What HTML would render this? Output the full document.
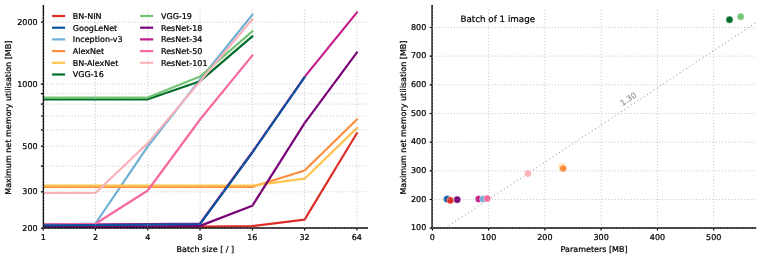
<!DOCTYPE html>
<html lang="en"><head><meta charset="utf-8"><title>Memory utilisation</title>
<style>html,body{margin:0;padding:0;background:#fff}body{width:762px;height:259px;overflow:hidden}svg{display:block}text{fill:#000;stroke:#000;stroke-width:.22px}text.g{fill:#999;stroke:#999}</style>
</head><body>
<svg width="762" height="259" viewBox="0 0 762 259" font-family='"DejaVu Sans", "Liberation Sans", sans-serif' font-size="8" text-rendering="geometricPrecision">
<rect width="762" height="259" fill="#fff"/>
<clipPath id="cl"><rect x="43.4" y="5.0" width="324.6" height="223.6"/></clipPath>
<g clip-path="url(#cl)">
<polyline points="43.20,226.70 95.48,226.70 147.76,226.70 200.04,226.70 252.32,226.10 304.60,219.60 356.88,133.20" fill="none" stroke="#de2d26" stroke-width="2.2" stroke-linejoin="round" stroke-linecap="square"/>
<polyline points="43.20,224.50 95.48,223.50 147.76,146.40 200.04,79.80 252.32,14.70" fill="none" stroke="#6baed6" stroke-width="2.2" stroke-linejoin="round" stroke-linecap="square"/>
<polyline points="43.20,186.95 95.48,186.95 147.76,186.95 200.04,186.95 252.32,186.95 304.60,170.50 356.88,119.60" fill="none" stroke="#fd8d3c" stroke-width="2.2" stroke-linejoin="round" stroke-linecap="square"/>
<polyline points="43.20,185.60 95.48,185.60 147.76,185.60 200.04,185.60 252.32,185.50 304.60,178.70 356.88,128.10" fill="none" stroke="#fec44f" stroke-width="2.2" stroke-linejoin="round" stroke-linecap="square"/>
<polyline points="43.20,99.30 95.48,99.30 147.76,99.30 200.04,81.20 252.32,36.40" fill="none" stroke="#006d2c" stroke-width="2.2" stroke-linejoin="round" stroke-linecap="square"/>
<polyline points="43.20,97.60 95.48,97.60 147.76,97.60 200.04,76.60 252.32,31.40" fill="none" stroke="#74c476" stroke-width="2.2" stroke-linejoin="round" stroke-linecap="square"/>
<polyline points="43.20,226.70 95.48,226.70 147.76,226.60 200.04,225.90 252.32,205.80 304.60,123.10 356.88,52.60" fill="none" stroke="#7a0177" stroke-width="2.2" stroke-linejoin="round" stroke-linecap="square"/>
<polyline points="43.20,224.60 95.48,224.40 147.76,224.00 200.04,223.50 252.32,152.00 304.60,76.90 356.88,12.50" fill="none" stroke="#c51b8a" stroke-width="2.2" stroke-linejoin="round" stroke-linecap="square"/>
<polyline points="43.20,224.60 95.48,223.80 147.76,190.50 200.04,119.50 252.32,55.50" fill="none" stroke="#f768a1" stroke-width="2.2" stroke-linejoin="round" stroke-linecap="square"/>
<polyline points="43.20,193.00 95.48,193.00 147.76,143.10 200.04,81.40 252.32,19.40" fill="none" stroke="#fbb4b9" stroke-width="2.2" stroke-linejoin="round" stroke-linecap="square"/>
<polyline points="43.20,225.35 95.48,225.00 147.76,224.60 200.04,224.00 252.32,152.60 304.60,77.40" fill="none" stroke="#08519c" stroke-width="2.2" stroke-linejoin="round" stroke-linecap="square"/>
</g>
<path d="M43.4 5.0V228.0" stroke="#000" stroke-width="1.4" fill="none"/>
<path d="M42.9 228.0H368.0" stroke="#000" stroke-width="1.4" fill="none"/>
<path d="M43.20 228.0v2.6M95.48 228.0v2.6M147.76 228.0v2.6M200.04 228.0v2.6M252.32 228.0v2.6M304.60 228.0v2.6M356.88 228.0v2.6M43.4 228.07h-2.5M43.4 191.81h-2.5M43.4 166.09h-2.5M43.4 146.13h-2.5M43.4 129.83h-2.5M43.4 116.04h-2.5M43.4 104.10h-2.5M43.4 93.57h-2.5M43.4 84.15h-2.5M43.4 22.17h-2.5" stroke="#000" stroke-width="1.15" fill="none"/>
<path d="M43.20 228.0V7.2M95.48 228.0V7.2M147.76 228.0V7.2M200.04 228.0V7.2M252.32 228.0V7.2M304.60 228.0V7.2M356.88 228.0V7.2M43.4 22.17H368.0M43.4 84.15H368.0M43.4 93.57H368.0M43.4 104.10H368.0M43.4 116.04H368.0M43.4 129.83H368.0M43.4 146.13H368.0M43.4 166.09H368.0M43.4 191.81H368.0M43.4 228.07H368.0" stroke="#a0a0a0" stroke-opacity="0.62" stroke-width="1" stroke-dasharray="1 2.15" fill="none"/>
<text x="37.6" y="230.57" text-anchor="end">200</text>
<text x="37.6" y="193.96" text-anchor="end">300</text>
<text x="37.6" y="148.68" text-anchor="end">500</text>
<text x="37.6" y="86.75" text-anchor="end">1000</text>
<text x="37.6" y="25.12" text-anchor="end">2000</text>
<text x="43.20" y="239.55" text-anchor="middle">1</text>
<text x="95.48" y="239.55" text-anchor="middle">2</text>
<text x="147.76" y="239.55" text-anchor="middle">4</text>
<text x="200.04" y="239.55" text-anchor="middle">8</text>
<text x="252.32" y="239.55" text-anchor="middle">16</text>
<text x="304.60" y="239.55" text-anchor="middle">32</text>
<text x="356.88" y="239.55" text-anchor="middle">64</text>
<text x="205.40" y="251.5" text-anchor="middle">Batch size [ / ]</text>
<text transform="translate(11.15 117.7) rotate(-90)" text-anchor="middle">Maximum net memory utilisation [MB]</text>
<path d="M52.1 16.00H65.1" stroke="#de2d26" stroke-width="2.2"/>
<text x="72.85" y="18.90">BN-NIN</text>
<path d="M52.1 27.70H65.1" stroke="#08519c" stroke-width="2.2"/>
<text x="72.85" y="30.60">GoogLeNet</text>
<path d="M52.1 39.40H65.1" stroke="#6baed6" stroke-width="2.2"/>
<text x="72.85" y="42.30">Inception-v3</text>
<path d="M52.1 51.10H65.1" stroke="#fd8d3c" stroke-width="2.2"/>
<text x="72.85" y="54.00">AlexNet</text>
<path d="M52.1 62.80H65.1" stroke="#fec44f" stroke-width="2.2"/>
<text x="72.85" y="65.70">BN-AlexNet</text>
<path d="M52.1 74.50H65.1" stroke="#006d2c" stroke-width="2.2"/>
<text x="72.85" y="77.40">VGG-16</text>
<path d="M140.1 16.00H153.2" stroke="#74c476" stroke-width="2.2"/>
<text x="161.0" y="18.90">VGG-19</text>
<path d="M140.1 27.70H153.2" stroke="#7a0177" stroke-width="2.2"/>
<text x="161.0" y="30.60">ResNet-18</text>
<path d="M140.1 39.40H153.2" stroke="#c51b8a" stroke-width="2.2"/>
<text x="161.0" y="42.30">ResNet-34</text>
<path d="M140.1 51.10H153.2" stroke="#f768a1" stroke-width="2.2"/>
<text x="161.0" y="54.00">ResNet-50</text>
<path d="M140.1 62.80H153.2" stroke="#fbb4b9" stroke-width="2.2"/>
<text x="161.0" y="65.70">ResNet-101</text>
<path d="M432.1 5.0V228.0" stroke="#000" stroke-width="1.4" fill="none"/>
<path d="M431.6 228.0H756.2" stroke="#000" stroke-width="1.4" fill="none"/>
<path d="M432.40 228.0v2.6M488.66 228.0v2.6M544.92 228.0v2.6M601.18 228.0v2.6M657.44 228.0v2.6M713.70 228.0v2.6M432.1 228.15h-2.4M432.1 199.48h-2.4M432.1 170.82h-2.4M432.1 142.15h-2.4M432.1 113.48h-2.4M432.1 84.82h-2.4M432.1 56.15h-2.4M432.1 27.48h-2.4" stroke="#000" stroke-width="1.15" fill="none"/>
<path d="M445.4 228L756.2 22.47" stroke="#808080" stroke-width="1" stroke-dasharray="0.95 2.95" fill="none"/>
<text transform="translate(628.2 98.9) rotate(-33.5)" text-anchor="middle" class="g" dy="2.9">1.30</text>
<circle cx="447.1" cy="199.15" r="3.6" fill="#08519c" stroke="#fff" stroke-width="0.5"/>
<circle cx="450.3" cy="200.3" r="3.6" fill="#de2d26" stroke="#fff" stroke-width="0.5"/>
<circle cx="457.2" cy="199.7" r="3.6" fill="#7a0177" stroke="#fff" stroke-width="0.5"/>
<circle cx="478.7" cy="199.0" r="3.6" fill="#c51b8a" stroke="#fff" stroke-width="0.5"/>
<circle cx="483.2" cy="199.0" r="3.6" fill="#6baed6" stroke="#fff" stroke-width="0.5"/>
<circle cx="487.2" cy="198.5" r="3.6" fill="#f768a1" stroke="#fff" stroke-width="0.5"/>
<circle cx="527.9" cy="173.6" r="3.6" fill="#fbb4b9" stroke="#fff" stroke-width="0.5"/>
<circle cx="562.0" cy="166.8" r="3.3" fill="#fff6e0" stroke="#fec44f" stroke-opacity="0.85" stroke-width="0.6"/>
<circle cx="563.1" cy="168.5" r="3.6" fill="#fd8d3c" stroke="#fff" stroke-width="0.5"/>
<circle cx="729.5" cy="19.7" r="3.6" fill="#006d2c" stroke="#fff" stroke-width="0.5"/>
<circle cx="740.7" cy="16.7" r="3.6" fill="#74c476" stroke="#fff" stroke-width="0.5"/>
<path d="M432.40 228.0V7.2M488.66 228.0V7.2M544.92 228.0V7.2M601.18 228.0V7.2M657.44 228.0V7.2M713.70 228.0V7.2M432.1 27.48H756.2M432.1 56.15H756.2M432.1 84.82H756.2M432.1 113.48H756.2M432.1 142.15H756.2M432.1 170.82H756.2M432.1 199.48H756.2M432.1 228.15H756.2" stroke="#a0a0a0" stroke-opacity="0.62" stroke-width="1" stroke-dasharray="1 2.15" fill="none"/>
<text x="426.3" y="230.25" text-anchor="end">100</text>
<text x="426.3" y="201.58" text-anchor="end">200</text>
<text x="426.3" y="172.92" text-anchor="end">300</text>
<text x="426.3" y="144.25" text-anchor="end">400</text>
<text x="426.3" y="115.58" text-anchor="end">500</text>
<text x="426.3" y="86.92" text-anchor="end">600</text>
<text x="426.3" y="58.25" text-anchor="end">700</text>
<text x="426.3" y="29.58" text-anchor="end">800</text>
<text x="432.40" y="239.55" text-anchor="middle">0</text>
<text x="488.66" y="239.55" text-anchor="middle">100</text>
<text x="544.92" y="239.55" text-anchor="middle">200</text>
<text x="601.18" y="239.55" text-anchor="middle">300</text>
<text x="657.44" y="239.55" text-anchor="middle">400</text>
<text x="713.70" y="239.55" text-anchor="middle">500</text>
<text x="594.1" y="251.6" text-anchor="middle">Parameters [MB]</text>
<text transform="translate(405.8 117.6) rotate(-90)" text-anchor="middle">Maximum net memory utilisation [MB]</text>
<text x="460.4" y="21.7" font-size="8.75">Batch of 1 image</text>
</svg>
</body></html>
